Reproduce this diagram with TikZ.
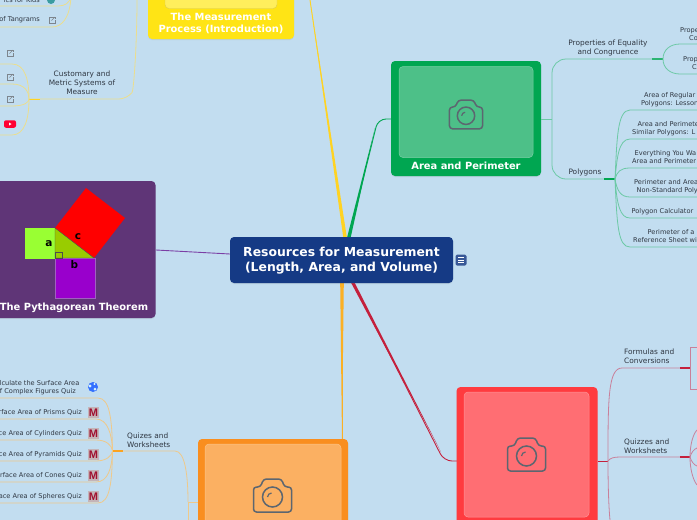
\documentclass[tikz,border=0pt]{standalone}
\usepackage{fontspec}
\setmainfont{DejaVu Sans}
\newfontfamily\iconfont{Liberation Sans}
\usetikzlibrary{calc, shadows}
\definecolor{skybg}{HTML}{C2DDF0}
\definecolor{navy}{HTML}{153A85}
\definecolor{grnA}{HTML}{00A651}
\definecolor{grnB}{HTML}{4DC088}
\definecolor{grnL}{HTML}{6CC9A6}
\definecolor{ylwA}{HTML}{FFE415}
\definecolor{ylwB}{HTML}{FFEE5C}
\definecolor{ylwL}{HTML}{EBDD8E}
\definecolor{ylwM}{HTML}{FFD323}
\definecolor{orgA}{HTML}{F98E1F}
\definecolor{orgB}{HTML}{FBB062}
\definecolor{orgL}{HTML}{EFC98A}
\definecolor{orgM}{HTML}{FBB024}
\definecolor{redA}{HTML}{FF3B3F}
\definecolor{redB}{HTML}{FF6E73}
\definecolor{redL}{HTML}{C9809A}
\definecolor{redM}{HTML}{C4203C}
\definecolor{purA}{HTML}{5F3577}
\definecolor{purM}{HTML}{7B3FA5}
\definecolor{inkc}{HTML}{2F3742}
\definecolor{camc}{HTML}{5C6670}
\definecolor{sqa}{HTML}{99FF33}
\definecolor{sqb}{HTML}{9900CC}
\definecolor{sqt}{HTML}{99CC00}
\definecolor{sqe}{HTML}{A060C0}
\definecolor{mbox}{HTML}{C4B4B8}
\definecolor{mink}{HTML}{A01030}
\tikzset{
	card/.style={rectangle, rounded corners=4pt, inner sep=0pt},
	bigcard/.style={card, drop shadow={shadow xshift=0pt, shadow yshift=-1pt, opacity=0.15}},
	title/.style={text=white, align=center, font=\fontsize{9.9}{12}\selectfont\bfseries},
	leaf/.style={text=inkc, inner sep=0pt, font=\fontsize{6.6}{8}\selectfont},
	sub/.style={text=inkc, inner sep=0pt, align=center, font=\fontsize{7.4}{8.8}\selectfont},
	camera/.pic={
		\draw [camc, line width=1.5pt, rounded corners=3pt] (-19,-8) -- (-12,-8) -- (-9,-16) -- (9,-16) -- (12,-8) -- (19,-8) -- (19,17) -- (-19,17) -- cycle;
		\draw [camc, line width=1.5pt] (0,2) circle (10);
		\draw [camc, line width=1.2pt] (-5,2) .. controls (-5,0) and (-3,-2) .. (-1,-2);
	},
	extlink/.pic={
		\draw [camc!80, line width=0.5pt] (1,-2.5) -- (-3,-2.5) -- (-3,3) -- (3,3) -- (3,0);
		\draw [camc!80, line width=0.7pt] (-0.5,0.5) -- (3,-3);
		\draw [camc!80, line width=0.5pt] (0.8,-3) -- (3,-3) -- (3,-1);
	},
	mailicon/.pic={
		\fill [mbox] (-5.5,-5.5) rectangle (5.5,5.5);
		\node [inner sep=0pt, text=mink, font=\fontsize{11}{11}\selectfont\iconfont\bfseries] at (0,0) {M};
	},
}

\begin{document}
\begin{tikzpicture}[x=1pt, y=-1pt]
	\useasboundingbox (0,0) rectangle (697,520);
	\clip (0,0) rectangle (697,520);
	\fill [skybg] (0,0) rectangle (697,520);

	% main branches
	\coordinate (grnA0) at (349,237);
	\coordinate (grnA1) at (375,128);
	\coordinate (ylwA0) at (345,237);
	\coordinate (ylwA2) at (310,0);
	\coordinate (orgA0) at (342,283);
	\coordinate (orgA1) at (342,439);
	\coordinate (redA0) at (353,283);
	\coordinate (redA1) at (441,452);
	\coordinate (purA0) at (230,254);
	\coordinate (purA1) at (156,250);
	\draw [grnA, line width=0.9pt, rounded corners=8pt] (grnA0) -- (378,119) -- (391,119);
	\fill [grnA] ($(grnA0)+(-1.8,0)$) -- ($(grnA0)+(1.8,0)$) -- (grnA1) -- cycle;
	\draw [ylwM, line width=0.9pt] (ylwA0) -- (ylwA2);
	\fill [ylwM] ($(ylwA0)+(-1.8,0)$) -- ($(ylwA0)+(1.8,0)$) -- (ylwA2) -- cycle;
	\draw [orgM, line width=0.9pt] (orgA0) -- (orgA1);
	\fill [orgM] ($(orgA0)+(-1.8,0)$) -- ($(orgA0)+(1.8,0)$) -- (orgA1) -- cycle;
	\draw [redM, line width=0.9pt, rounded corners=8pt] (redA0) -- (444,461) -- (457,461);
	\fill [redM] ($(redA0)+(-1.8,0)$) -- ($(redA0)+(1.8,0)$) -- (redA1) -- cycle;
	\draw [purM, line width=0.9pt] (purA0) -- (purA1);

	% main topic and the five cards
	\node [bigcard, fill=navy, minimum width=223pt, minimum height=46pt] (main) at (341.5,260) {};
	\node [title, font=\fontsize{12.4}{15}\selectfont\bfseries] (mainlabel) at (341.5,260.5) {Resources for Measurement\\(Length, Area, and Volume)};
	\node [bigcard, fill=grnA, minimum width=150pt, minimum height=115pt] (area) at (466,118.5) {};
	\node [card, fill=grnB, draw=grnB!75!white, line width=0.5pt, minimum width=134pt, minimum height=91pt] (areapic) at (466,112) {};
	\node [title] (arealabel) at (466,165.5) {Area and Perimeter};
	\node [bigcard, fill=ylwA, minimum width=146pt, minimum height=70pt] (process) at (221,4) {};
	\node [card, fill=ylwB, draw=ylwB!85!black, line width=0.4pt, minimum width=112pt, minimum height=40pt] (processpic) at (221,-11.5) {};
	\node [title] (processlabel) at (221,23.5) {The Measurement\\Process (Introduction)};
	\node [bigcard, fill=purA, minimum width=185pt, minimum height=137pt] (pyth) at (63,249.5) {};
	\node [title] (pythlabel) at (74,307.5) {The Pythagorean Theorem};
	\node [bigcard, fill=orgA, minimum width=150pt, minimum height=130pt] (surface) at (273,504) {};
	\node [card, fill=orgB, draw=orgB!75!white, line width=0.5pt, minimum width=136pt, minimum height=120pt] (surfacepic) at (273,504) {};
	\node [bigcard, fill=redA, minimum width=141pt, minimum height=150pt] (volume) at (527,462) {};
	\node [card, fill=redB, draw=redB!75!white, line width=0.5pt, minimum width=125pt, minimum height=125pt] (volumepic) at (526.5,454.5) {};
	\pic at (466,114) [scale=0.87] {camera};
	\pic at (272.5,495) {camera};
	\pic at (526.5,454) {camera};

	% note icon
	\node [card, rounded corners=1.5pt, fill=navy!85, minimum size=11pt] (note) at (461,260) {};
	\draw [white, line width=0.6pt] (458,257.5) -- (464,257.5);
	\draw [white, line width=0.6pt] (458,260) -- (464,260);
	\draw [white, line width=0.6pt] (458,262.5) -- (464,262.5);

	% picture on the pythagorean card
	\fill [red] (55,228) -- (86,188) -- (125,218) -- (94,258) -- cycle;
	\fill [sqa] (25,228) rectangle (55,259);
	\fill [sqt] (55,228) -- (94,258) -- (55,258) -- cycle;
	\draw [sqe, line width=0.7pt, fill=sqb] (55,258) rectangle (95,298);
	\draw [black!70, line width=0.4pt] (55,228) -- (94,258) -- (55,258) -- cycle;
	\draw [black!70, line width=0.4pt] (55,252) rectangle (62,258);
	\node [inner sep=0pt, font=\fontsize{10.5}{12}\selectfont\bfseries] (sidea) at (49,244) {a};
	\node [inner sep=0pt, font=\fontsize{10.5}{12}\selectfont\bfseries] (sideb) at (74.5,265) {b};
	\node [inner sep=0pt, font=\fontsize{10.5}{12}\selectfont\bfseries] (sidec) at (78,237) {c};

	% area and perimeter
	\coordinate (grnHub) at (552,119);
	\coordinate (propsEnd) at (663,59);
	\coordinate (polyEnd) at (615,179);
	\draw [grnL, line width=0.8pt, rounded corners=14pt] (grnHub) -- (552,59) -- (propsEnd);
	\draw [grnL, line width=0.8pt, rounded corners=14pt] (grnHub) -- (552,179) -- (polyEnd);
	\draw [grnL, line width=1pt] (area.east |- grnHub) -- (grnHub);
	\draw [grnA, line width=1.2pt] (604,179) -- (polyEnd);
	\draw [grnA!60!grnL, line width=1.1pt] (652,59) -- (propsEnd);
	\node [sub] (props) at (608,48) {Properties of Equality\\and Congruence};
	\node [sub] (polys) at (585,172.5) {Polygons};
	\draw [grnL, line width=0.8pt] (propsEnd) .. controls (663,50) and (670,44) .. (680,44) -- (697,44);
	\draw [grnL, line width=0.8pt] (propsEnd) .. controls (663,68) and (670,74) .. (680,74) -- (697,74);
	\node [leaf, anchor=west] (propA1) at (680,31) {Prope};
	\node [leaf, anchor=west] (propA2) at (689,38.5) {Co};
	\node [leaf, anchor=west] (propB1) at (683,59.5) {Prope};
	\node [leaf, anchor=west] (propB2) at (692,67) {C};
	\draw [grnL, line width=0.8pt] (polyEnd) .. controls (617,140) and (617,110) .. (630,110) -- (697,110);
	\draw [grnL, line width=0.8pt] (polyEnd) .. controls (617,160) and (618,139) .. (630,139) -- (697,139);
	\draw [grnL, line width=0.8pt] (polyEnd) .. controls (617,172) and (620,168) .. (630,168) -- (697,168);
	\draw [grnL, line width=0.8pt] (polyEnd) .. controls (617,190) and (620,197) .. (630,197) -- (697,197);
	\draw [grnL, line width=0.8pt] (polyEnd) .. controls (617,205) and (620,218) .. (630,218) -- (697,218);
	\draw [grnL, line width=0.8pt] (polyEnd) .. controls (617,225) and (618,247) .. (630,247) -- (697,247);
	\node [leaf, anchor=west] (polyA1) at (644,95.5) {Area of Regular};
	\node [leaf, anchor=west] (polyA2) at (641,103.5) {Polygons: Lesson};
	\node [leaf, anchor=west] (polyB1) at (637.5,124.5) {Area and Perimete};
	\node [leaf, anchor=west] (polyB2) at (632,132.5) {Similar Polygons: L};
	\node [leaf, anchor=west] (polyC1) at (634.5,153.5) {Everything You Wa};
	\node [leaf, anchor=west] (polyC2) at (632,161.5) {Area and Perimeter};
	\node [leaf, anchor=west] (polyD1) at (634,182.5) {Perimeter and Area};
	\node [leaf, anchor=west] (polyD2) at (636.5,190.5) {Non-Standard Poly};
	\node [leaf, anchor=west] (polyE1) at (631.5,211.5) {Polygon Calculator};
	\node [leaf, anchor=west] (polyF1) at (647.5,232.5) {Perimeter of a};
	\node [leaf, anchor=west] (polyF2) at (633,240.5) {Reference Sheet wit};

	% volume
	\coordinate (redHub) at (608,461);
	\coordinate (formEnd) at (690,368);
	\coordinate (quizEnd) at (690,457);
	\draw [redM, line width=1pt] (volume.east |- redHub) -- (redHub);
	\draw [redL, line width=0.8pt] (redHub) .. controls (608,400) and (608,368) .. (622,368) -- (formEnd);
	\draw [redL, line width=0.8pt] (redHub) .. controls (610,458) and (614,457) .. (620,457) -- (quizEnd);
	\draw [redL, line width=0.8pt] (redHub) .. controls (608,490) and (609,510) .. (610,520);
	\draw [redM, line width=1.1pt] (680,368) -- (formEnd);
	\draw [redM, line width=1.1pt] (680,457) -- (quizEnd);
	\node [sub, anchor=west, align=left] (forms) at (624,356.5) {Formulas and\\Conversions};
	\node [sub, anchor=west, align=left] (quizzes) at (624,446) {Quizzes and\\Worksheets};
	\draw [redL, line width=0.8pt] (697,347) -- (690,347) -- (690,389) -- (697,389);
	\draw [redL, line width=0.8pt] (quizEnd) .. controls (690,445) and (693,434) .. (697,430);
	\draw [redL, line width=0.8pt] (quizEnd) .. controls (691,453) and (694,449) .. (697,448);
	\draw [redL, line width=0.8pt] (quizEnd) .. controls (691,461) and (694,465) .. (697,466);
	\draw [redL, line width=0.8pt] (quizEnd) .. controls (690,469) and (693,480) .. (697,485);

	% measurement process
	\coordinate (unitHub) at (29,99);
	\draw [ylwL, line width=0.8pt, rounded corners=8pt] (unitHub) -- (127,99) .. controls (134,90) and (137,40) .. (137,0);
	\draw [ylwM, line width=1pt] (unitHub) -- (40,99);
	\node [sub] (units) at (82,83) {Customary and\\Metric Systems of\\Measure};
	\draw [ylwL, line width=0.8pt] (unitHub) .. controls (29,80) and (25,64) .. (12,64) -- (0,64);
	\draw [ylwL, line width=0.8pt] (unitHub) .. controls (29,92) and (25,84) .. (12,84) -- (0,84);
	\draw [ylwL, line width=0.8pt] (unitHub) .. controls (29,102) and (25,106) .. (12,106) -- (0,106);
	\draw [ylwL, line width=0.8pt] (unitHub) .. controls (29,118) and (25,135) .. (12,135) -- (0,135);
	\draw [ylwL, line width=0.8pt] (0,6) -- (58,6) .. controls (65,6) and (70,3) .. (71,-4);
	\draw [ylwL, line width=0.8pt] (0,27) -- (52,27) .. controls (62,27) and (70,18) .. (71,-4);
	\node [leaf, anchor=east] (tools) at (40,0) {ics for Kids};
	\node [leaf, anchor=east] (tangram) at (40,20) {of Tangrams};
	\fill [teal!70!skybg] (51,0) circle (4);
	\pic at (52,20) {extlink};
	\pic at (10,53) {extlink};
	\pic at (10,77) {extlink};
	\pic at (10,99) {extlink};
	\node [card, rounded corners=2pt, fill={rgb,255:red,255;green,0;blue,51}, minimum width=12pt, minimum height=7.5pt] (video) at (10,124) {};
	\fill [white] (9,122.5) -- (11.5,124) -- (9,125.5) -- cycle;

	% surface area
	\coordinate (quizHub) at (112.5,451);
	\coordinate (surfTrunk) at (188,502);
	\draw [orgL, line width=0.8pt] (surface.west |- surfTrunk) -- (surfTrunk);
	\draw [orgL, line width=0.8pt] (surfTrunk) .. controls (188,475) and (185,451) .. (175,451) -- (quizHub);
	\draw [orgL, line width=0.8pt] (surfTrunk) -- (188,520);
	\draw [orgA!70!ylwM, line width=1.1pt] (quizHub) -- (123,451);
	\node [sub, anchor=west, align=left] (quizes) at (127,440) {Quizes and\\Worksheets};
	\draw [orgL, line width=0.8pt] (quizHub) .. controls (112,420) and (110,398) .. (98,398) -- (0,398);
	\draw [orgL, line width=0.8pt] (quizHub) .. controls (112,435) and (108,419) .. (96,419) -- (0,419);
	\draw [orgL, line width=0.8pt] (quizHub) .. controls (112,445) and (106,440) .. (96,440) -- (0,440);
	\draw [orgL, line width=0.8pt] (quizHub) .. controls (112,456) and (106,461) .. (96,461) -- (0,461);
	\draw [orgL, line width=0.8pt] (quizHub) .. controls (112,468) and (108,482) .. (96,482) -- (0,482);
	\draw [orgL, line width=0.8pt] (quizHub) .. controls (112,482) and (110,503) .. (98,503) -- (0,503);
	\node [leaf, anchor=east] (quizA1) at (79.5,383.5) {lculate the Surface Area};
	\node [leaf, anchor=east] (quizA2) at (76,391.5) {f Complex Figures Quiz};
	\node [leaf, anchor=east] (quizB) at (82,412.5) {urface Area of Prisms Quiz};
	\node [leaf, anchor=east] (quizC) at (82,433.5) {ce Area of Cylinders Quiz};
	\node [leaf, anchor=east] (quizD) at (82,454.5) {ce Area of Pyramids Quiz};
	\node [leaf, anchor=east] (quizE) at (82,475.5) {urface Area of Cones Quiz};
	\node [leaf, anchor=east] (quizF) at (82,496.5) {ace Area of Spheres Quiz};
	\fill [blue!70!cyan!80!white] (93,387) circle (5);
	\fill [white!85!cyan] (90,386) circle (1.7);
	\fill [white!85!cyan] (95,389) circle (1.5);
	\fill [white!85!cyan] (94.5,384) circle (1.2);
	\pic at (93.5,412.5) {mailicon};
	\pic at (93.5,433.5) {mailicon};
	\pic at (93.5,454.5) {mailicon};
	\pic at (93.5,475.5) {mailicon};
	\pic at (93.5,496.5) {mailicon};
\end{tikzpicture}
\end{document}
